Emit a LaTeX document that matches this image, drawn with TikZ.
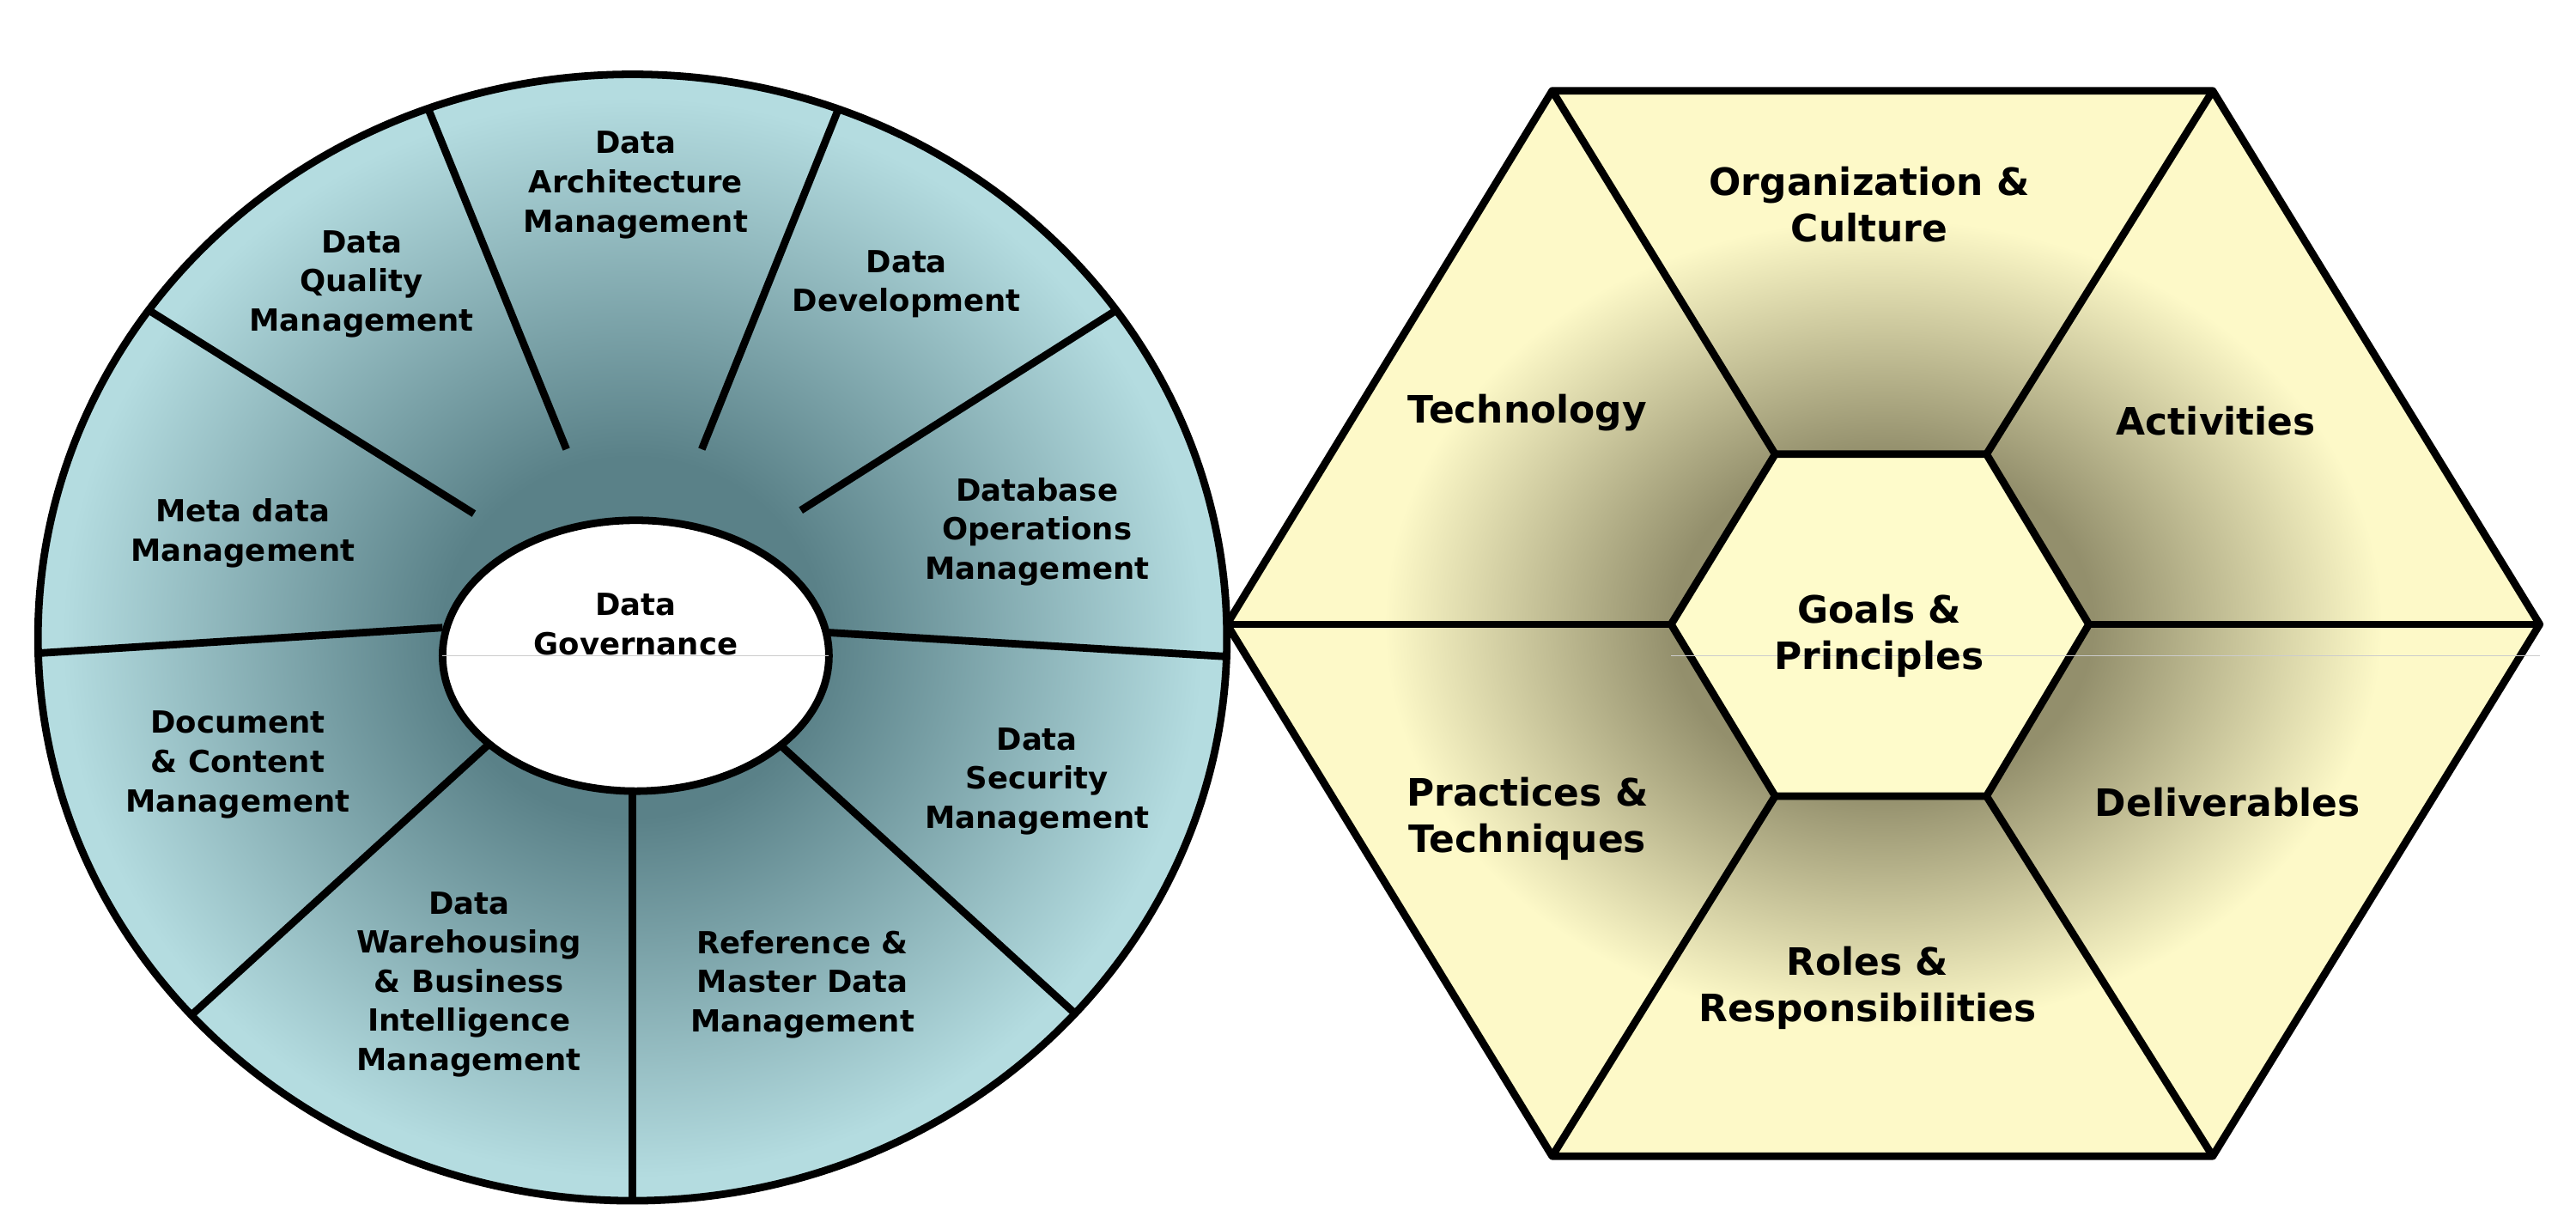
\documentclass[tikz,border=0pt]{standalone}
\usepackage{fontspec}
\setmainfont{DejaVu Sans}
\definecolor{wdark}{HTML}{5A8188}
\definecolor{wlight}{HTML}{B4DCE0}
\definecolor{hdark}{HTML}{938F6C}
\definecolor{hlight}{HTML}{FDF9C8}
\definecolor{hcen}{HTML}{FEFBCB}
\pgfdeclareradialshading{wheelsh}{\pgfpoint{0bp}{0bp}}{color(0bp)=(wdark); color(8bp)=(wdark); color(24bp)=(wlight); color(50bp)=(wlight)}
\pgfdeclareradialshading{hexsh}{\pgfpoint{0bp}{0bp}}{color(0bp)=(hdark); color(8bp)=(hdark); color(19bp)=(hlight); color(50bp)=(hlight)}
\tikzset{
 ln/.style={line width=2.6pt,line join=round},
 wl/.style={font=\bfseries\fontsize{10.5}{13.5}\selectfont,align=center,text=black},
 hl/.style={font=\bfseries\fontsize{13}{16}\selectfont,align=center,text=black},
}
\begin{document}
\begin{tikzpicture}[x=0.02cm,y=-0.02cm]
\useasboundingbox (0,0) rectangle (1560,740);
% wheel
\shade[shading=wheelsh] (383,386) ellipse [x radius=360,y radius=341];
\begin{scope}
\clip (383,386) ellipse [x radius=360,y radius=341];
\foreach \a/\b/\c/\d in {248/38/343/272, 519/38/425/272, 76/179/287/311, 690/179/485/309, 15/396/268/380, 751/398/502/383, 110/620/300/447, 658/620/468/447, 383/735/383/478}
  \draw[ln] (\a,\b) -- (\c,\d);
\end{scope}
\draw[ln] (383,386) ellipse [x radius=360,y radius=341];
\draw[ln,fill=white] (385,397) ellipse [x radius=117,y radius=82];
\draw[gray!40,line width=0.4pt] (268,397) -- (502,397);
\node[wl] (gov) at (385,378) {Data\\Governance};
\node[wl] (arch) at (385,112) {Data\\Architecture\\Management};
\node[wl] (dev) at (549,172) {Data\\Development};
\node[wl] (ops) at (628,322) {Database\\Operations\\Management};
\node[wl] (sec) at (628,473) {Data\\Security\\Management};
\node[wl] (ref) at (486,596) {Reference \&\\Master Data\\Management};
\node[wl] (dw) at (284,596) {Data\\Warehousing\\\& Business\\Intelligence\\Management};
\node[wl] (doc) at (144,463) {Document\\\& Content\\Management};
\node[wl] (meta) at (147,323) {Meta data\\Management};
\node[wl] (qual) at (219,172) {Data\\Quality\\Management};
% hexagon
\shade[shading=hexsh] (743,378) -- (940,55) -- (1340,55) -- (1538,378) -- (1340,700) -- (940,700) -- cycle;
\draw[ln] (743,378) -- (940,55) -- (1340,55) -- (1538,378) -- (1340,700) -- (940,700) -- cycle;
\draw[ln,fill=hcen] (1012,378) -- (1075,275) -- (1203,275) -- (1265,378) -- (1203,482) -- (1075,482) -- cycle;
\draw[ln] (940,55) -- (1075,275);
\draw[ln] (1340,55) -- (1203,275);
\draw[ln] (743,378) -- (1012,378);
\draw[ln] (1538,378) -- (1265,378);
\draw[ln] (940,700) -- (1075,482);
\draw[ln] (1340,700) -- (1203,482);
\draw[gray!40,line width=0.4pt] (1012,397) -- (1538,397);
\node[hl] (goals) at (1138,385) {Goals \&\\Principles};
\node[hl] (org) at (1132,124) {Organization \&\\Culture};
\node[hl] (tech) at (925,250) {Technology};
\node[hl] (act) at (1342,255) {Activities};
\node[hl] (prac) at (925,496) {Practices \&\\Techniques};
\node[hl] (deliv) at (1349,486) {Deliverables};
\node[hl] (roles) at (1131,598) {Roles \&\\Responsibilities};
\end{tikzpicture}
\end{document}
